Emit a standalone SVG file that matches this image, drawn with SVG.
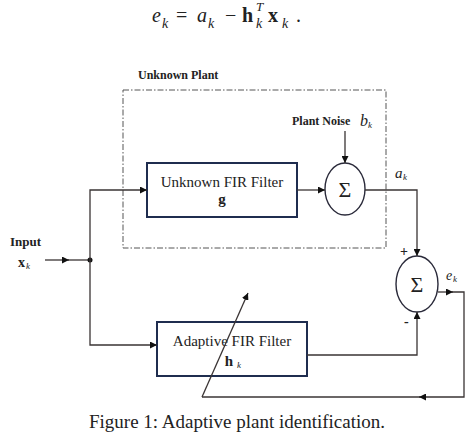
<svg xmlns="http://www.w3.org/2000/svg" width="474" height="435" viewBox="0 0 474 435">
<style>
.ln{fill:none;stroke:#3a3434;stroke-width:1.3}
.bx{fill:#fff;stroke:#1f2d4f;stroke-width:2}
.sm{fill:#fff;stroke:#2a2a3a;stroke-width:1.4}
.t{font-family:"Liberation Serif",serif;fill:#222}
.b{font-weight:bold}
.i{font-style:italic}
</style>
<defs>
<marker id="ar" viewBox="0 0 10 10" refX="10" refY="5" markerWidth="7" markerHeight="7" markerUnits="userSpaceOnUse" orient="auto">
<path d="M0,0 L10,5 L0,10 z" fill="#111"/>
</marker>
</defs>
<rect width="474" height="435" fill="#fff"/>
<g id="equation" class="t" font-size="20">
<text x="152" y="22" class="i">e</text>
<text x="162" y="28" class="i" font-size="14">k</text>
<text x="176" y="22">=</text>
<text x="197" y="22" class="i">a</text>
<text x="208" y="28" class="i" font-size="14">k</text>
<text x="225" y="22">−</text>
<text x="242" y="22" class="b">h</text>
<text x="256" y="11" class="i" font-size="13">T</text>
<text x="256" y="28" class="i" font-size="14">k</text>
<text x="268" y="22" class="b">x</text>
<text x="282" y="28" class="i" font-size="14">k</text>
<text x="296" y="22">.</text>
</g>
<g id="unknown-plant">
<rect x="123" y="90" width="263" height="158" fill="none" stroke="#555" stroke-width="1" stroke-dasharray="6,2,1.5,2"/>
<text x="138" y="79" class="t b" font-size="12">Unknown Plant</text>
</g>
<g id="unknown-fir">
<rect class="bx" x="147" y="163" width="150" height="54"/>
<text x="222" y="187" class="t" font-size="15" text-anchor="middle">Unknown FIR Filter</text>
<text x="222" y="204" class="t b" font-size="15" text-anchor="middle">g</text>
</g>
<g id="sum1">
<ellipse class="sm" cx="345" cy="189" rx="20" ry="26"/>
<text x="345" y="197" class="t" font-size="22" text-anchor="middle">Σ</text>
</g>
<g id="plant-noise">
<text x="292" y="125" class="t b" font-size="12">Plant Noise</text>
<text x="360" y="126" class="t i" font-size="16">b</text>
<text x="368" y="128" class="t i" font-size="9">k</text>
</g>
<g id="adaptive-fir">
<rect class="bx" x="157" y="322" width="150" height="54"/>
<text x="232" y="346" class="t" font-size="15" text-anchor="middle">Adaptive FIR Filter</text>
<text x="229" y="366" class="t b" font-size="15" text-anchor="middle">h</text>
<text x="237" y="368" class="t i" font-size="9">k</text>
</g>
<g id="sum2">
<ellipse class="sm" cx="417" cy="284" rx="21" ry="28"/>
<text x="417" y="292" class="t" font-size="22" text-anchor="middle">Σ</text>
<text x="400" y="256" class="t b" font-size="14">+</text>
<text x="404" y="326" class="t b" font-size="14">-</text>
</g>
<g id="labels">
<text x="395" y="178" class="t i" font-size="15">a</text>
<text x="403" y="180" class="t i" font-size="9">k</text>
<text x="446" y="280" class="t i" font-size="14">e</text>
<text x="453" y="282" class="t i" font-size="9">k</text>
<text x="10" y="246" class="t b" font-size="13">Input</text>
<text x="18" y="267" class="t b" font-size="14">x</text>
<text x="26" y="269" class="t i" font-size="9">k</text>
</g>
<g id="connectors">
<path class="ln" d="M45,260 H69" marker-end="url(#ar)"/>
<path class="ln" d="M68,260 H90"/>
<circle cx="90" cy="260" r="2.5" fill="#111"/>
<path class="ln" d="M90,260 V190 H147" marker-end="url(#ar)"/>
<path class="ln" d="M90,260 V345 H157" marker-end="url(#ar)"/>
<path class="ln" d="M297,190 H325" marker-end="url(#ar)"/>
<path class="ln" d="M345,131 V163" marker-end="url(#ar)"/>
<path class="ln" d="M365,190 H417 V256" marker-end="url(#ar)"/>
<path class="ln" d="M307,355 H417 V312" marker-end="url(#ar)"/>
<path class="ln" d="M438,292 H453" marker-end="url(#ar)"/>
<path class="ln" d="M452,292 H464 V397 H419" marker-end="url(#ar)"/>
<path class="ln" d="M420,397 H202"/>
<path class="ln" d="M202,397 L248,293" marker-end="url(#ar)"/>
</g>
<g id="caption">
<text x="237" y="428" class="t" font-size="19" text-anchor="middle">Figure 1: Adaptive plant identification.</text>
</g>
</svg>
